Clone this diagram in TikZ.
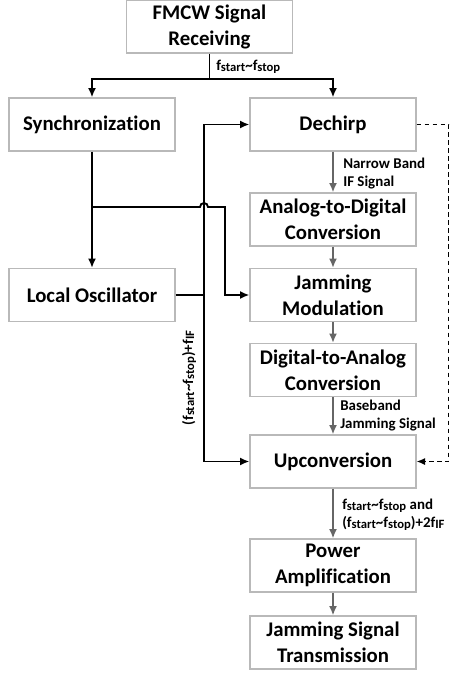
\documentclass[tikz,border=0pt]{standalone}
\usepackage{fontspec}
\setmainfont{Carlito}[Ligatures=NoCommon]
\usetikzlibrary{arrows.meta,positioning,calc}

% small "f" with a lowered index, as in f_start
\newcommand{\fsub}[1]{f\raisebox{-0.8pt}{\fontsize{9.5}{9.5}\selectfont #1}}

\begin{document}
\begin{tikzpicture}[
      x=0.75pt, y=-0.75pt,
      block/.style={rectangle, draw=gray!55, line width=0.8pt, minimum width=124.5pt, minimum height=39.75pt, font=\fontsize{15.6}{19.5}\selectfont\bfseries, align=center, inner sep=2pt},
      link/.style={-{Latex[length=7pt,width=6pt]}, line width=1.4pt, black},
      flow/.style={-{Latex[length=7pt,width=6pt]}, line width=1.4pt, black!60},
      note/.style={font=\fontsize{11.2}{13.5}\selectfont\bfseries, align=left, anchor=west, inner sep=0pt},
    ]
    \useasboundingbox (0,0) rectangle (474,698);
    % Receiving and the two first branches
    \node [block] (recv) at (209.5, 26.5) {FMCW Signal\\Receiving};
    \node [block] (sync) at (92, 124.5) {Synchronization};
    \node [block] (dechirp) at (333, 124.5) {Dechirp};
    \coordinate (split) at (209.5, 79);
    \draw [link] (recv.south) -- (split) -| (sync.north);
    \draw [link] (split) -| (dechirp.north);
    \node [note] (bandlbl) at (216, 67) {\fsub{start}\textasciitilde\fsub{stop}};
    % Right column
    \node [block] (adc) at (333, 219.5) {Analog-to-Digital\\Conversion};
    \node [block] (jam) at (333, 295) {Jamming\\Modulation};
    \node [block] (dac) at (333, 370) {Digital-to-Analog\\Conversion};
    \node [block] (upconv) at (333, 461.5) {Upconversion};
    \node [block] (pa) at (333, 565.5) {Power\\Amplification};
    \node [block] (tx) at (333, 642.5) {Jamming Signal\\Transmission};
    \draw [flow] (dechirp) -- (adc);
    \draw [flow] (adc) -- (jam);
    \draw [flow] (jam) -- (dac);
    \draw [flow] (dac) -- (upconv);
    \draw [flow] (upconv) -- (pa);
    \draw [flow] (pa) -- (tx);
    \node [note] (iflbl) at (343, 174) {Narrow Band\\IF Signal};
    \node [note] (bblbl) at (340, 415.5) {Baseband\\Jamming Signal};
    \node [note] (outlbl) at (342, 514.5) {\fsub{start}\textasciitilde\fsub{stop} and\\(\fsub{start}\textasciitilde\fsub{stop})+2\fsub{IF}};
    % Left column
    \node [block] (lo) at (92, 295) {Local Oscillator};
    \draw [link] (sync) -- (lo);
    \coordinate (tap) at (92, 207);
    \coordinate (bus) at (204, 295);
    \draw [link] (tap) -- ($(tap -| bus)+(-4,0)$) arc (180:360:4) -- ++(17,0) |- (jam.west);
    \draw [link] (lo.east) -- (bus) |- (dechirp.west);
    \draw [link] (bus) |- (upconv.west);
    \node [note, anchor=center, rotate=90] (lofreq) at (189, 378) {(\fsub{start}\textasciitilde\fsub{stop})+\fsub{IF}};
    % Dashed bypass
    \draw [link, line width=1.2pt, dash pattern=on 3.5pt off 2.5pt, -{Latex[length=6.5pt,width=5.5pt]}] (dechirp.east) -- ++(32,0) coordinate (loop) |- (upconv.east);
  \end{tikzpicture}
\end{document}
